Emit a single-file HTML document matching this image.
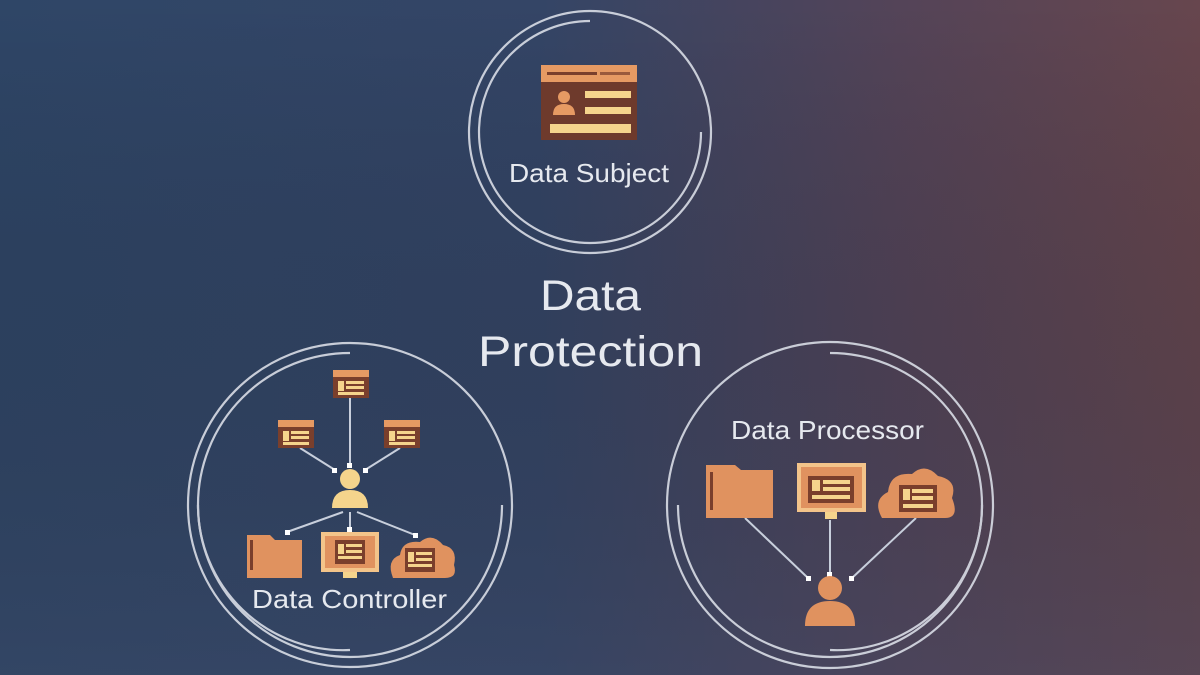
<!DOCTYPE html>
<html><head><meta charset="utf-8"><style>
html,body{margin:0;padding:0;width:1200px;height:675px;overflow:hidden}
svg{display:block}
text{font-family:"Liberation Sans",sans-serif;fill:#e6e9ef}
</style></head><body>
<svg width="1200" height="675" viewBox="0 0 1200 675" xmlns="http://www.w3.org/2000/svg">
<defs>
<linearGradient id="bg" x1="0" y1="0" x2="1" y2="0">
<stop offset="0" stop-color="#2f4667"/>
<stop offset="0.45" stop-color="#344566"/>
<stop offset="0.75" stop-color="#544458"/>
<stop offset="1" stop-color="#67464e"/>
</linearGradient>
<linearGradient id="vg" x1="0" y1="0" x2="0" y2="1">
<stop offset="0" stop-color="#000" stop-opacity="0"/>
<stop offset="1" stop-color="#3a4560" stop-opacity="0.35"/>
</linearGradient>
<g id="card">
<rect x="0" y="0" width="36" height="28" fill="#7a3f2c"/>
<rect x="0" y="0" width="36" height="7" fill="#e69a63"/>
<rect x="5" y="11" width="6" height="10" fill="#f5d48c"/>
<rect x="13" y="11" width="18" height="3" fill="#f5d48c"/>
<rect x="13" y="16" width="18" height="3" fill="#f5d48c"/>
<rect x="5" y="22" width="26" height="3" fill="#f5d48c"/>
</g>
<g id="doc">
<rect x="0" y="0" width="30" height="24" fill="#7a3f2c"/>
<rect x="3" y="4" width="6" height="10" fill="#f5d48c"/>
<rect x="11" y="4" width="16" height="3" fill="#f5d48c"/>
<rect x="11" y="10" width="16" height="3" fill="#f5d48c"/>
<rect x="3" y="16" width="24" height="3" fill="#f5d48c"/>
</g>
</defs>
<rect width="1200" height="675" fill="url(#bg)"/>
<rect width="1200" height="675" fill="url(#vg)"/>

<g fill="none" stroke="#d9dde6" stroke-width="2.2" opacity="0.9">
<circle cx="590" cy="132" r="121"/>
<path d="M590 21 A111 111 0 1 0 701 132" />
<circle cx="350" cy="505" r="162"/>
<path d="M350 353 A152 152 0 1 0 502 505"/>
<path d="M198 505 A145 145 0 0 0 350 650"/>
<circle cx="830" cy="505" r="163"/>
<path d="M830 353 A152 152 0 1 1 678 505"/>
<path d="M982 505 A145 145 0 0 1 830 650"/>
</g>

<rect x="541" y="65" width="96" height="75" fill="#6e3a2c"/>
<rect x="541" y="65" width="96" height="17" fill="#e69a63"/>
<rect x="547" y="72" width="50" height="3" fill="#7a3f2c"/>
<rect x="600" y="72" width="30" height="3" fill="#9a5a3c"/>
<circle cx="564" cy="97" r="6" fill="#e69a63"/>
<path d="M553 115 Q553 104 564 104 Q575 104 575 115 Z" fill="#e69a63"/>
<rect x="585" y="91" width="46" height="7" fill="#f5d48c"/>
<rect x="585" y="107" width="46" height="7" fill="#f5d48c"/>
<rect x="550" y="124" width="81" height="9" fill="#f5d48c"/>
<text x="509" y="182" font-size="26" textLength="160" lengthAdjust="spacingAndGlyphs">Data Subject</text>

<text x="540" y="310" font-size="43" textLength="101" lengthAdjust="spacingAndGlyphs">Data</text>
<text x="478" y="366" font-size="43" textLength="225" lengthAdjust="spacingAndGlyphs">Protection</text>

<g stroke="#c8cfdc" stroke-width="2">
<line x1="350" y1="397" x2="350" y2="466"/>
<line x1="300" y1="448" x2="335" y2="470"/>
<line x1="400" y1="448" x2="365" y2="470"/>
<line x1="343" y1="512" x2="287" y2="532"/>
<line x1="350" y1="512" x2="350" y2="530"/>
<line x1="357" y1="512" x2="415" y2="535"/>
</g>
<g fill="#ffffff">
<rect x="347" y="463" width="5" height="5"/><rect x="332" y="468" width="5" height="5"/><rect x="363" y="468" width="5" height="5"/>
<rect x="285" y="530" width="5" height="5"/><rect x="347" y="527" width="5" height="5"/><rect x="413" y="533" width="5" height="5"/>
</g>
<use href="#card" x="333" y="370"/>
<use href="#card" x="278" y="420"/>
<use href="#card" x="384" y="420"/>
<circle cx="350" cy="479" r="10" fill="#f5d48c"/>
<path d="M332 508 Q332 490 350 490 Q368 490 368 508 Z" fill="#f5d48c"/>
<path d="M247 535 L270 535 L275 540 L302 540 L302 578 L247 578 Z" fill="#e0925f"/>
<rect x="250" y="540" width="3" height="30" fill="#7a3f2c"/>
<rect x="321" y="532" width="58" height="40" fill="#f3c48a"/>
<rect x="325" y="536" width="50" height="32" fill="#e0925f"/>
<use href="#doc" x="335" y="540"/>
<rect x="343" y="572" width="14" height="6" fill="#f5d48c"/>
<path d="M393 578 Q386 560 400 555 Q402 540 420 542 Q432 532 443 545 Q458 548 454 565 Q458 578 445 578 Z" fill="#e0925f"/>
<use href="#doc" x="405" y="548"/>
<text x="252" y="608" font-size="26" textLength="195" lengthAdjust="spacingAndGlyphs">Data Controller</text>

<text x="731" y="439" font-size="26" textLength="193" lengthAdjust="spacingAndGlyphs">Data Processor</text>
<g stroke="#c8cfdc" stroke-width="2">
<line x1="745" y1="518" x2="808" y2="578"/>
<line x1="830" y1="520" x2="830" y2="573"/>
<line x1="916" y1="518" x2="852" y2="578"/>
</g>
<g fill="#ffffff">
<rect x="806" y="576" width="5" height="5"/><rect x="827" y="572" width="5" height="5"/><rect x="849" y="576" width="5" height="5"/>
</g>
<circle cx="830" cy="588" r="12" fill="#e0925f"/>
<path d="M805 626 Q805 601 830 601 Q855 601 855 626 Z" fill="#e0925f"/>
<path d="M706 465 L735 465 L741 470 L773 470 L773 518 L706 518 Z" fill="#e0925f"/>
<rect x="710" y="472" width="3" height="38" fill="#7a3f2c"/>
<rect x="797" y="463" width="69" height="49" fill="#f3c48a"/>
<rect x="801" y="467" width="61" height="41" fill="#e0925f"/>
<rect x="808" y="476" width="46" height="27" fill="#7a3f2c"/>
<rect x="812" y="480" width="8" height="11" fill="#f5d48c"/>
<rect x="823" y="480" width="27" height="4" fill="#f5d48c"/>
<rect x="823" y="487" width="27" height="4" fill="#f5d48c"/>
<rect x="812" y="495" width="38" height="4" fill="#f5d48c"/>
<rect x="825" y="512" width="12" height="7" fill="#f5d48c"/>
<path d="M882 518 Q872 500 888 492 Q890 472 912 474 Q925 462 938 476 Q958 480 952 498 Q960 518 945 518 Z" fill="#e0925f"/>
<rect x="899" y="485" width="38" height="27" fill="#7a3f2c"/>
<rect x="903" y="489" width="7" height="11" fill="#f5d48c"/>
<rect x="912" y="489" width="21" height="4" fill="#f5d48c"/>
<rect x="912" y="496" width="21" height="4" fill="#f5d48c"/>
<rect x="903" y="504" width="30" height="4" fill="#f5d48c"/>
</svg>
</body></html>
